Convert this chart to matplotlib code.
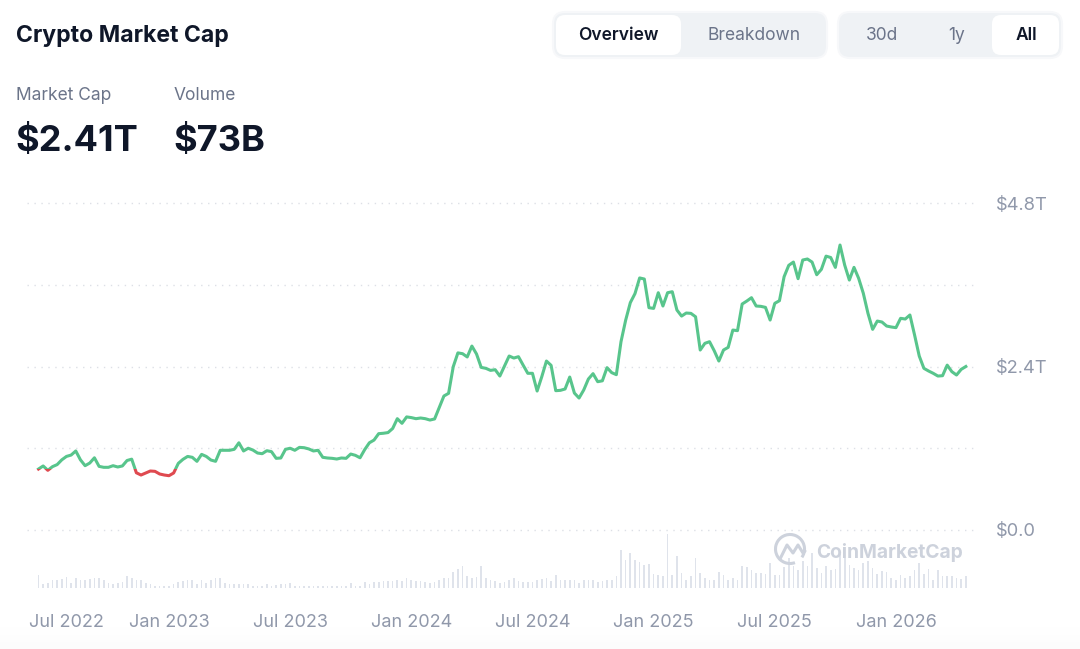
# --------------------------------------
# SECTION 1: IMPORTS AND DATA
# --------------------------------------
import numpy as np
import matplotlib
matplotlib.use("Agg")
import matplotlib.pyplot as plt
from matplotlib.patches import FancyBboxPatch, Arc, Rectangle

plt.rcParams['font.family'] = ['Inter', 'DejaVu Sans']

# weekly total market cap, in trillion USD
market_cap = [
    0.895, 0.94, 0.876, 0.93, 0.96, 1.03, 1.08, 1.10, 1.16, 1.03,
    0.944, 0.983, 1.06, 0.934, 0.92, 0.92, 0.944, 0.925, 0.94, 1.02,
    1.04, 0.84, 0.807, 0.837, 0.866, 0.861, 0.822, 0.807, 0.797, 0.837,
    0.978, 1.037, 1.08, 1.067, 1.008, 1.11, 1.08, 1.027, 1.008, 1.17,
    1.17, 1.17, 1.184, 1.28, 1.16, 1.20, 1.174, 1.13, 1.12, 1.164,
    1.15, 1.052, 1.057, 1.184, 1.20, 1.17, 1.213, 1.208, 1.19, 1.16,
    1.17, 1.067, 1.057, 1.052, 1.042, 1.057, 1.052, 1.115, 1.096, 1.06,
    1.18, 1.28, 1.32, 1.414, 1.42, 1.43, 1.49, 1.634, 1.566, 1.66,
    1.65, 1.634, 1.644, 1.634, 1.614, 1.63, 1.80, 1.967, 2.006, 2.397,
    2.60, 2.588, 2.54, 2.70, 2.583, 2.387, 2.373, 2.343, 2.353, 2.26,
    2.407, 2.554, 2.524, 2.544, 2.42, 2.30, 2.30, 2.04, 2.25, 2.48,
    2.417, 2.045, 2.05, 2.07, 2.245, 2.01, 1.937, 2.055, 2.216, 2.295,
    2.177, 2.19, 2.383, 2.31, 2.28, 2.764, 3.08, 3.337, 3.47, 3.70,
    3.684, 3.263, 3.253, 3.483, 3.288, 3.483, 3.498, 3.229, 3.14, 3.185,
    3.18, 3.13, 2.642, 2.74, 2.764, 2.632, 2.48, 2.642, 2.681, 2.935,
    2.926, 3.317, 3.361, 3.41, 3.288, 3.283, 3.268, 3.082, 3.327, 3.366,
    3.718, 3.885, 3.933, 3.689, 3.963, 3.978, 3.933, 3.747, 3.826, 4.02,
    4.00, 3.855, 4.183, 3.889, 3.669, 3.855, 3.694, 3.474, 3.18, 2.945,
    3.067, 3.053, 2.994, 2.98, 2.97, 3.107, 3.097, 3.156, 2.862, 2.554,
    2.373, 2.334, 2.30, 2.26, 2.265, 2.42, 2.324, 2.275, 2.358, 2.40,
]

# weekly traded volume, in billion USD
volume = [
    76, 24, 30, 48, 48, 52, 64, 28, 56, 48,
    48, 52, 56, 60, 48, 28, 24, 28, 36, 68,
    60, 48, 44, 28, 20, 12, 12, 10, 10, 24,
    36, 40, 48, 44, 24, 48, 28, 48, 56, 56,
    28, 24, 24, 20, 20, 20, 12, 12, 12, 24,
    12, 16, 20, 24, 28, 12, 12, 12, 12, 12,
    12, 12, 10, 10, 10, 8, 10, 28, 8, 8,
    36, 24, 36, 36, 40, 40, 40, 44, 40, 56,
    44, 40, 40, 32, 28, 32, 44, 56, 56, 92,
    112, 128, 68, 60, 64, 128, 56, 48, 40, 28,
    36, 48, 56, 40, 32, 32, 36, 48, 52, 56,
    40, 76, 48, 48, 48, 48, 28, 44, 48, 44,
    36, 40, 48, 44, 68, 224, 164, 208, 164, 152,
    136, 140, 84, 76, 68, 320, 76, 190, 88, 44,
    68, 180, 88, 56, 44, 44, 92, 76, 44, 60,
    48, 128, 124, 104, 88, 88, 80, 148, 76, 76,
    124, 180, 128, 104, 160, 132, 208, 120, 88, 128,
    108, 112, 200, 176, 136, 116, 104, 148, 160, 120,
    84, 100, 92, 60, 48, 76, 56, 68, 104, 148,
    84, 112, 44, 104, 72, 68, 68, 56, 52, 70,
]

month_labels = ["Jul 2022", "Jan 2023", "Jul 2023", "Jan 2024",
                "Jul 2024", "Jan 2025", "Jul 2025", "Jan 2026"]
month_weeks = [6, 28, 54, 80, 106, 132, 158, 184]

cap_ticks = [0, 1.2, 2.4, 3.6, 4.8]
cap_labels = ["$0.0", "", "$2.4T", "", "$4.8T"]

baseline = 0.90  # line turns red below this

DARK = "#0f1729"
GREY = "#6b7489"
AXIS_GREY = "#9098aa"
GREEN = "#58c58c"
RED = "#df4a50"
BAR = "#dfe3eb"
MARK = "#cdd2dc"

W, H = 1080, 649
fig = plt.figure(figsize=(W / 100, H / 100), dpi=100, facecolor="white")


def px_axes(x0, y0, x1, y1, **kwargs):
    """Axes placed from pixel corners (y counted from the top)."""
    return fig.add_axes([x0 / W, 1 - y1 / H, (x1 - x0) / W, (y1 - y0) / H], **kwargs)


# --------------------------------------
# SECTION 2: HEADER AND TABS
# --------------------------------------
ui = px_axes(0, 0, W, H, zorder=0)
ui.set_xlim(0, W)
ui.set_ylim(H, 0)
ui.axis("off")

# faint fade at the very bottom of the card
fade = np.linspace(1, 0.985, 30).reshape(-1, 1)
ui.imshow(fade, extent=(0, W, H, H - 30), cmap="gray", vmin=0, vmax=1, aspect="auto")
ui.set_xlim(0, W)
ui.set_ylim(H, 0)


def pill(x0, y0, x1, y1, color, radius, edge="none"):
    ui.add_patch(FancyBboxPatch((x0, y0), x1 - x0, y1 - y0, facecolor=color, edgecolor=edge,
                                linewidth=1.5, boxstyle=f"round,pad=0,rounding_size={radius}"))


pill(553, 12, 827, 58, "#eff2f5", 12, edge="#f7f8fa")
pill(838, 12, 1062, 58, "#eff2f5", 12, edge="#f7f8fa")
pill(556, 15, 681, 55, "white", 9)
pill(992, 15, 1059, 55, "white", 9)

ui.text(16, 36, "Crypto Market Cap", fontsize=16.6, fontweight="bold", color=DARK, va="center")
ui.text(16, 96, "Market Cap", fontsize=12.5, color=GREY, va="center")
ui.text(174, 96, "Volume", fontsize=12.5, color=GREY, va="center")
ui.text(15.5, 142, "$2.41T", fontsize=26, fontweight="bold", color=DARK, va="center")
ui.text(173.5, 142, "$73B", fontsize=26, fontweight="bold", color=DARK, va="center")

ui.text(618, 36, "Overview", fontsize=12.5, fontweight="semibold", color=DARK, ha="center", va="center")
ui.text(754, 36, "Breakdown", fontsize=12.5, color=GREY, ha="center", va="center")
ui.text(882, 36, "30d", fontsize=12.5, color=GREY, ha="center", va="center")
ui.text(957, 36, "1y", fontsize=12.5, color=GREY, ha="center", va="center")
ui.text(1026, 36, "All", fontsize=12.5, fontweight="semibold", color=DARK, ha="center", va="center")

# --------------------------------------
# SECTION 3: MARKET CAP LINE
# --------------------------------------
weeks = np.arange(len(market_cap))
step = 4.66
first_x = 38.5
x_lim = ((27 - first_x) / step, (975 - first_x) / step)

ax = px_axes(27, 203, 975, 530, zorder=2)
ax.patch.set_alpha(0)
ax.set_xlim(*x_lim)
ax.set_ylim(0, 4.8)

for y in cap_ticks:
    ax.axhline(y, color="#dde0e6", lw=1.0, ls=(0, (1, 4)), zorder=1, clip_on=False)

# same line twice, each one clipped to its side of the baseline
up, = ax.plot(weeks, market_cap, color=GREEN, lw=2.2, solid_joinstyle="round", zorder=3)
down, = ax.plot(weeks, market_cap, color=RED, lw=2.2, solid_joinstyle="round", zorder=3)
up.set_clip_path(Rectangle((x_lim[0], baseline), x_lim[1] - x_lim[0], 5, transform=ax.transData))
down.set_clip_path(Rectangle((x_lim[0], 0), x_lim[1] - x_lim[0], baseline, transform=ax.transData))

ax.yaxis.tick_right()
ax.set_yticks(cap_ticks)
ax.set_yticklabels(cap_labels, fontsize=13.2, color=AXIS_GREY)
ax.tick_params(axis="y", length=0, pad=15)
ax.set_xticks([])
for spine in ax.spines.values():
    spine.set_visible(False)

# --------------------------------------
# SECTION 4: VOLUME BARS AND MONTH LABELS
# --------------------------------------
ax_vol = px_axes(27, 530, 975, 587.7, zorder=1)
ax_vol.patch.set_alpha(0)
ax_vol.set_xlim(*x_lim)
ax_vol.set_ylim(0, 346)
ax_vol.bar(weeks, volume, width=0.36, color=BAR)
ax_vol.set_yticks([])
ax_vol.set_xticks(month_weeks)
ax_vol.set_xticklabels(month_labels, fontsize=13, color=AXIS_GREY)
ax_vol.tick_params(axis="x", length=0, pad=19)
for spine in ax_vol.spines.values():
    spine.set_visible(False)

# --------------------------------------
# SECTION 5: WATERMARK
# --------------------------------------
mark = px_axes(0, 0, W, H, zorder=3)
mark.set_xlim(0, W)
mark.set_ylim(H, 0)
mark.axis("off")
mark.patch.set_alpha(0)
mark.add_patch(Arc((790, 549), 29, 29, theta1=70, theta2=395, color=MARK, lw=2.2))
mark.plot([780, 787, 793, 798, 803, 805], [559, 545, 553, 545, 553, 551], color=MARK, lw=2.2,
          solid_joinstyle="round", solid_capstyle="round")
mark.text(816, 552, "CoinMarketCap", fontsize=13.8, fontweight="bold", color=MARK, va="center")

fig.savefig("out.png", dpi=100)
